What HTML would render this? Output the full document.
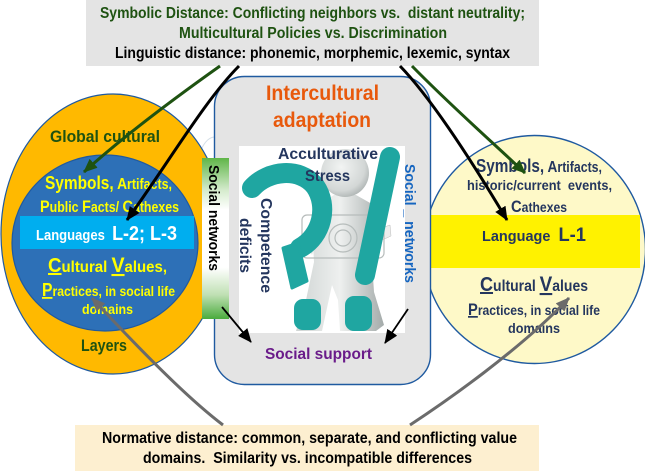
<!DOCTYPE html>
<html><head><meta charset="utf-8"><style>
html,body{margin:0;padding:0;background:#fff;width:645px;height:471px;overflow:hidden}
svg{display:block}
text{font-family:"Liberation Sans",sans-serif;font-weight:bold}
</style></head><body>
<svg width="645" height="471" viewBox="0 0 645 471">
<defs>
<linearGradient id="g" x1="0" y1="0" x2="0" y2="1"><stop offset="0" stop-color="#5fb548"/><stop offset=".2" stop-color="#d5ebcd"/><stop offset=".32" stop-color="#fff"/><stop offset=".68" stop-color="#fff"/><stop offset=".85" stop-color="#bfe0b3"/><stop offset="1" stop-color="#4aab3d"/></linearGradient>
<linearGradient id="f" x1="0" y1="0" x2="1" y2="0"><stop offset="0" stop-color="#cfd4d3"/><stop offset=".5" stop-color="#eef0ef"/><stop offset="1" stop-color="#a4abaa"/></linearGradient>
<radialGradient id="h" cx=".42" cy=".38" r=".7"><stop offset="0" stop-color="#f2f4f3"/><stop offset=".7" stop-color="#d3d7d6"/><stop offset="1" stop-color="#a4abaa"/></radialGradient>
<marker id="mg" markerUnits="userSpaceOnUse" markerWidth="14" markerHeight="12" refX="13" refY="6" orient="auto"><path d="M0 0L14 6L0 12z" fill="#1e5211"/></marker>
<marker id="mb" markerUnits="userSpaceOnUse" markerWidth="14" markerHeight="12" refX="13" refY="6" orient="auto"><path d="M0 0L14 6L0 12z" fill="#000"/></marker>
<marker id="my" markerUnits="userSpaceOnUse" markerWidth="14" markerHeight="12" refX="13" refY="6" orient="auto"><path d="M0 0L14 6L0 12z" fill="#6b6b6b"/></marker>
</defs>
<rect x="86" y="0" width="453" height="66" fill="#e4e4e4"/>
<rect x="75" y="425" width="464" height="46" fill="#fdefd0"/>
<path d="M199 155Q205 138 214 137" fill="none" stroke="#d5dfe8" stroke-width="1"/>
<ellipse cx="113" cy="234" rx="112" ry="140" fill="#ffb900" stroke="#1f5aa0" stroke-width="1.2"/>
<ellipse cx="105" cy="243" rx="93" ry="88" fill="#2d70b7" stroke="#1f5aa0" stroke-width="1.2"/>
<rect x="20" y="216" width="174" height="33" fill="#00aeef"/>
<ellipse cx="534.5" cy="249.5" rx="111" ry="114" fill="#fef9c8" stroke="#1f5aa0" stroke-width="1.4"/>
<rect x="429" y="215" width="211" height="53" fill="#fff200"/>
<rect x="214.500" y="76.500" width="216" height="308" rx="30" fill="#e4e4e4" stroke="#1f5aa0" stroke-width="1.4"/>
<rect x="239" y="146" width="166" height="187" fill="#fff"/>
<rect x="202" y="158" width="27" height="161" fill="url(#g)"/>
<!-- figure -->
<g>
<path d="M334 195L356 195L372 204Q380 214 381 232L380 250L372 262L374 292L384 325L376 331L340 331L338 300L332 285L322 331L296 331L306 300L314 262L312 225Q314 206 334 195z" fill="url(#f)"/>
<circle cx="345" cy="173" r="24" fill="url(#h)"/>
<path d="M305 245L315 222L322 230L312 255z" fill="#e8ebea"/>
<path d="M376 230L390 225L391 236L380 241z" fill="#eceeed" stroke="#bbb" stroke-width=".5"/>
<g fill="none" stroke="#b6bcbb" stroke-width="1.200"><circle cx="343" cy="238" r="14"/><circle cx="343" cy="238" r="8"/><rect x="302" y="215" width="82" height="43" rx="5"/></g>
</g>
<path d="M252 188C268 170 300 167 315 186C329 206 322 236 300 248" fill="none" stroke="#1fa6a1" stroke-width="20" stroke-linecap="round"/>
<path d="M283 248L298 243L307 281L292 288z" fill="#1fa6a1" stroke="#1fa6a1" stroke-width="3" stroke-linejoin="round"/>
<path d="M390 157L365 275" fill="none" stroke="#1fa6a1" stroke-width="20" stroke-linecap="round"/>
<rect x="294" y="299" width="27" height="31" rx="9" fill="#1fa6a1"/>
<rect x="345" y="296" width="27" height="35" rx="9" fill="#1fa6a1"/>
<!-- text -->
<g fill="#1e5211" font-size="15.500">
<text x="100" y="18" textLength="425" lengthAdjust="spacingAndGlyphs" xml:space="preserve">Symbolic Distance: Conflicting neighbors vs.  distant neutrality;</text>
<text x="179" y="38" textLength="268" lengthAdjust="spacingAndGlyphs">Multicultural Policies vs. Discrimination</text>
</g>
<text x="115" y="58" font-size="15.500" fill="#000" textLength="395" lengthAdjust="spacingAndGlyphs">Linguistic distance: phonemic, morphemic, lexemic, syntax</text>
<g font-size="15.500" fill="#000">
<text x="102" y="443" textLength="415" lengthAdjust="spacingAndGlyphs">Normative distance: common, separate, and conflicting value</text>
<text x="143" y="463" textLength="329" lengthAdjust="spacingAndGlyphs" xml:space="preserve">domains.  Similarity vs. incompatible differences</text>
</g>
<g fill="#e8590c" font-size="21">
<text x="266" y="100" textLength="113" lengthAdjust="spacingAndGlyphs">Intercultural</text>
<text x="273" y="127" textLength="98" lengthAdjust="spacingAndGlyphs">adaptation</text>
</g>
<g fill="#1e5211" font-size="17">
<text x="50" y="142" textLength="110" lengthAdjust="spacingAndGlyphs">Global cultural</text>
<text x="81" y="351" textLength="46" lengthAdjust="spacingAndGlyphs">Layers</text>
</g>
<g fill="#ffff00">
<text x="45" y="189" font-size="14.500" textLength="127" lengthAdjust="spacingAndGlyphs"><tspan font-size="18">Symbols,</tspan> <tspan font-size="16">A</tspan>rtifacts,</text>
<text x="40" y="212" font-size="14.500" textLength="139" lengthAdjust="spacingAndGlyphs"><tspan font-size="17">P</tspan>ublic <tspan font-size="17">F</tspan>acts/ <tspan font-size="17">C</tspan>athexes</text>
<text x="48" y="272" font-size="16" textLength="119" lengthAdjust="spacingAndGlyphs"><tspan font-size="20" text-decoration="underline">C</tspan>ultural <tspan font-size="21" text-decoration="underline">V</tspan>alues,</text>
<text x="42" y="296" font-size="14" textLength="133" lengthAdjust="spacingAndGlyphs"><tspan font-size="18" text-decoration="underline">P</tspan>ractices, in social life</text>
<text x="82" y="314" font-size="14" textLength="51" lengthAdjust="spacingAndGlyphs">domains</text>
</g>
<text x="36" y="240" fill="#fff" font-size="14.500" textLength="141" lengthAdjust="spacingAndGlyphs" xml:space="preserve">Languages  <tspan font-size="20">L-2; L-3</tspan></text>
<g fill="#24365e">
<text x="476" y="172" font-size="14.500" textLength="126" lengthAdjust="spacingAndGlyphs"><tspan font-size="18">Symbols,</tspan> <tspan font-size="16">A</tspan>rtifacts,</text>
<text x="467" y="190" font-size="14" textLength="145" lengthAdjust="spacingAndGlyphs" xml:space="preserve">historic/current  events,</text>
<text x="511" y="212" font-size="14" textLength="56" lengthAdjust="spacingAndGlyphs"><tspan font-size="17">C</tspan>athexes</text>
<text x="482" y="241" font-size="15" textLength="104" lengthAdjust="spacingAndGlyphs" xml:space="preserve">Language  <tspan font-size="19">L-1</tspan></text>
<text x="480" y="291" font-size="15.500" textLength="108" lengthAdjust="spacingAndGlyphs"><tspan font-size="20" text-decoration="underline">C</tspan>ultural <tspan font-size="21" text-decoration="underline">V</tspan>alues</text>
<text x="468" y="315" font-size="14" textLength="132" lengthAdjust="spacingAndGlyphs"><tspan font-size="17" text-decoration="underline">P</tspan>ractices, in social life</text>
<text x="508" y="333" font-size="14" textLength="52" lengthAdjust="spacingAndGlyphs">domains</text>
<text x="278" y="159" font-size="16" textLength="100" lengthAdjust="spacingAndGlyphs">Acculturative</text>
<text x="305" y="181" font-size="16" textLength="45" lengthAdjust="spacingAndGlyphs">Stress</text>
<text transform="translate(261 198) rotate(90)" font-size="16" textLength="95" lengthAdjust="spacingAndGlyphs">Competence</text>
<text transform="translate(240 218) rotate(90)" font-size="16" textLength="55" lengthAdjust="spacingAndGlyphs">deficits</text>
</g>
<text x="265" y="359" fill="#6a1b8a" font-size="15.500" textLength="107" lengthAdjust="spacingAndGlyphs">Social support</text>
<text transform="translate(209 165) rotate(90)" fill="#000" font-size="15" textLength="106" lengthAdjust="spacingAndGlyphs">Social networks</text>
<text transform="translate(405 164) rotate(90)" fill="#1565c0" font-size="15" textLength="119" lengthAdjust="spacingAndGlyphs">Social _ networks</text>
<!-- arrows -->
<g fill="none" stroke-width="3">
<path d="M220 66C172 100 125 135 84 172" stroke="#1e5211" marker-end="url(#mg)"/>
<path d="M412 66C450 105 490 140 525 173" stroke="#1e5211" marker-end="url(#mg)"/>
<path d="M239 66C205 100 167 165 127 220" stroke="#000" marker-end="url(#mb)"/>
<path d="M400 66C430 97 470 158 507 220" stroke="#000" marker-end="url(#mb)"/>
<path d="M223 425C190 400 140 350 92 298" stroke="#6b6b6b" marker-end="url(#my)"/>
<path d="M410 425C445 402 520 350 569 298" stroke="#6b6b6b" marker-end="url(#my)"/>
</g>
<g fill="none" stroke="#000" stroke-width="1.800">
<path d="M222 307L251 342" marker-end="url(#mb)"/>
<path d="M408 309L385 343" marker-end="url(#mb)"/>
</g>
</svg>
</body></html>
